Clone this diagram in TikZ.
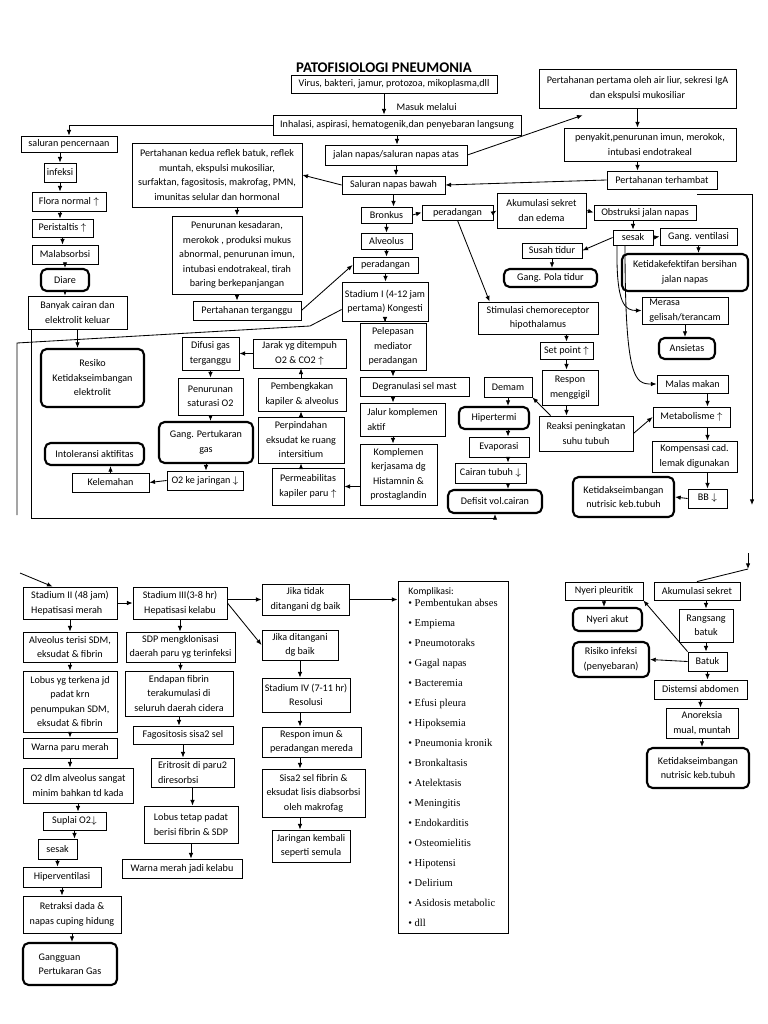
\documentclass[tikz,border=0pt]{standalone}
\usepackage{fontspec}
\setmainfont{Carlito}
\newfontfamily\listfont{Liberation Serif}
\usetikzlibrary{arrows.meta}
\tikzset{
  flowblock/.style={
    rectangle, draw=black, line width=0.6pt, fill=white,
    font=\fontsize{7.2}{10.3}\selectfont, align=center, inner sep=1pt
  },
  diagblock/.style={
    flowblock, rounded corners=4pt, line width=1.5pt
  },
  listblock/.style={
    rectangle, draw=black, line width=0.6pt,
    font=\listfont\fontsize{7.5}{14.25}\selectfont, align=left, inner sep=2pt
  },
  sz/.style 2 args={minimum width=#1*0.025cm, minimum height=#2*0.025cm},
  flowarrow/.style={
    -{Latex[length=4pt,width=3.2pt]}, line width=0.6pt, color=black
  },
  flowline/.style={line width=0.6pt, color=black},
  titlenode/.style={font=\fontsize{10.5}{12}\selectfont\bfseries},
  labelnode/.style={font=\fontsize{7.2}{9}\selectfont, inner sep=1pt},
}
\begin{document}
\begin{tikzpicture}[x=0.025cm, y=-0.025cm]
  \useasboundingbox (0,0) rectangle (768,1024);

  % Title and entry
  \node[titlenode] (title) at (384,68) {PATOFISIOLOGI PNEUMONIA};
  \node[flowblock, sz={206}{18}] (virus) at (394,84) {Virus, bakteri, jamur, protozoa, mikoplasma,dll};
  \node[labelnode, anchor=west] (masuk) at (395,107) {Masuk melalui};
  \node[flowblock, sz={248}{20}] (inhal) at (397,125) {Inhalasi, aspirasi, hematogenik,dan penyebaran langsung};

  % Defence path
  \node[flowblock, sz={142}{20}] (jnatas) at (396,155) {jalan napas/saluran napas atas};
  \node[flowblock, sz={103}{18}] (snbawah) at (393.5,185) {Saluran napas bawah};
  \node[flowblock, sz={197}{39}] (pert1) at (637.5,88.5) {Pertahanan pertama oleh air liur, sekresi IgA\\dan ekspulsi mukosiliar};
  \node[flowblock, sz={172}{33}] (penyakit) at (650,144.5) {penyakit,penurunan imun, merokok,\\intubasi endotrakeal};
  \node[flowblock, sz={110}{18}] (terhambat) at (662,180) {Pertahanan terhambat};
  \node[flowblock, sz={170}{64}] (pert2) at (217,175) {Pertahanan kedua reflek batuk, reflek\\muntah, ekspulsi mukosiliar,\\surfaktan, fagositosis, makrofag, PMN,\\imunitas selular dan hormonal};
  \node[flowblock, sz={130}{78}] (penkes) at (237,255) {Penurunan kesadaran,\\merokok , produksi mukus\\abnormal, penurunan imun,\\intubasi endotrakeal, tirah\\baring berkepanjangan};
  \node[flowblock, sz={108}{19}] (terganggu) at (247,310.5) {Pertahanan terganggu};

  % Digestive path
  \node[flowblock, sz={96}{16}] (salpen) at (69,144) {saluran pencernaan};
  \node[flowblock, sz={32}{19}] (infeksi) at (60,172.5) {infeksi};
  \node[flowblock, sz={74}{19}] (flora) at (69,201.5) {Flora normal $\uparrow$};
  \node[flowblock, sz={61}{18}] (peris) at (62.5,228) {Peristaltis $\uparrow$};
  \node[flowblock, sz={66}{19}] (malab) at (65,254.5) {Malabsorbsi};
  \node[diagblock, sz={48}{22}] (diare) at (65,280) {Diare};
  \node[flowblock, sz={99}{33}] (banyak) at (77.5,312.5) {Banyak cairan dan\\elektrolit keluar};
  \node[diagblock, sz={103}{58}] (resiko) at (92.5,378) {Resiko\\Ketidakseimbangan\\elektrolit};

  % Lower airway
  \node[flowblock, sz={51}{16}] (bronkus) at (386.5,215) {Bronkus};
  \node[flowblock, sz={71}{15}] (perad1) at (457.5,212.5) {peradangan};
  \node[flowblock, sz={89}{35}] (akum) at (541.5,210.5) {Akumulasi sekret\\dan edema};
  \node[flowblock, sz={51}{16}] (alveolus) at (386.5,241) {Alveolus};
  \node[flowblock, sz={65}{16}] (perad2) at (385.5,265) {peradangan};
  \node[flowblock, sz={86}{39}] (stad1) at (385,301.5) {Stadium I (4-12 jam\\pertama) Kongesti};

  % Obstruction branch
  \node[flowblock, sz={102}{15}] (obstr) at (645,212.5) {Obstruksi jalan napas};
  \node[flowblock, sz={40}{15}] (sesak) at (633,237.5) {sesak};
  \node[flowblock, sz={77}{17}] (gvent) at (698.5,236.5) {Gang. ventilasi};
  \node[diagblock, sz={126}{37}] (ketef) at (685,272.5) {Ketidakefektifan bersihan\\jalan napas};
  \node[flowblock, sz={60}{15}] (susah) at (552,250.5) {Susah tidur};
  \node[diagblock, sz={93}{18}] (gpola) at (550.5,278) {Gang. Pola tidur};
  \node[flowblock, sz={86}{27}, align=left] (merasa) at (685,310.5) {Merasa\\gelisah/terancam};
  \node[diagblock, sz={56}{21}] (ansietas) at (687,348.5) {Ansietas};
  \node[flowblock, sz={71}{18}] (malas) at (692.5,384) {Malas makan};
  \node[flowblock, sz={77}{20}] (metab) at (691.5,417) {Metabolisme $\uparrow$};
  \node[flowblock, sz={85}{31}] (kompen) at (694.5,456.5) {Kompensasi cad.\\lemak digunakan};
  \node[flowblock, sz={39}{19}] (bb) at (707.5,498.5) {BB $\downarrow$};
  \node[diagblock, sz={101}{40}] (ketnut) at (623.5,497) {Ketidakseimbangan\\nutrisic keb.tubuh};

  % Fever branch
  \node[flowblock, sz={120}{32}] (stimul) at (538,318) {Stimulasi chemoreceptor\\hipothalamus};
  \node[flowblock, sz={53}{17}] (setpoint) at (566.5,350.5) {Set point $\uparrow$};
  \node[flowblock, sz={56}{35}] (respon) at (570,387.5) {Respon\\menggigil};
  \node[flowblock, sz={94}{35}] (reaksi) at (586,433.5) {Reaksi peningkatan\\suhu tubuh};
  \node[flowblock, sz={48}{20}] (demam) at (508,387) {Demam};
  \node[diagblock, sz={70}{22}] (hiper) at (494,418) {Hipertermi};
  \node[flowblock, sz={60}{20}] (evap) at (499,447) {Evaporasi};
  \node[flowblock, sz={71}{20}] (cairan) at (490.5,473) {Cairan tubuh $\downarrow$};
  \node[diagblock, sz={94}{23}] (defisit) at (495,501.5) {Defisit vol.cairan};

  % Inflammatory mediators
  \node[flowblock, sz={66}{47}] (pelepasan) at (393,346.5) {Pelepasan\\mediator\\peradangan};
  \node[flowblock, sz={109}{19}] (degran) at (414.5,386.5) {Degranulasi sel mast};
  \node[flowblock, sz={85}{33}, align=left] (jalur) at (402.5,419.5) {Jalur komplemen\\aktif};
  \node[flowblock, sz={77}{61}] (komplemen) at (398.5,474.5) {Komplemen\\kerjasama dg\\Histamnin \&\\prostaglandin};
  \node[flowblock, sz={72}{37}] (permeab) at (308,486.5) {Permeabilitas\\kapiler paru $\uparrow$};
  \node[flowblock, sz={86}{46}] (perpind) at (301,440) {Perpindahan\\eksudat ke ruang\\intersitium};
  \node[flowblock, sz={88}{33}] (pembeng) at (302,394.5) {Pembengkakan\\kapiler \& alveolus};
  \node[flowblock, sz={93}{29}] (jarak) at (299.5,353.5) {Jarak yg ditempuh\\O2 \& CO2 $\uparrow$};
  \node[flowblock, sz={57}{33}] (difusi) at (210.5,353.5) {Difusi gas\\terganggu};
  \node[flowblock, sz={65}{37}] (penurunan) at (210.5,396.5) {Penurunan\\saturasi O2};
  \node[diagblock, sz={94}{41}] (gpert) at (206,442.5) {Gang. Pertukaran\\gas};
  \node[flowblock, sz={76}{19}] (o2jar) at (205,480.5) {O2 ke jaringan $\downarrow$};
  \node[flowblock, sz={77}{19}] (kelemahan) at (110.5,482.5) {Kelemahan};
  \node[diagblock, sz={99}{22}] (intoler) at (94.5,454) {Intoleransi aktifitas};

  % Stage II and III
  \node[flowblock, sz={94}{32}, align=left] (stad2) at (70,603) {Stadium II (48 jam)\\Hepatisasi merah};
  \node[flowblock, sz={94}{32}] (stad3) at (180,603) {Stadium III(3-8 hr)\\Hepatisasi kelabu};
  \node[flowblock, sz={94}{30}] (alvterisi) at (70,647) {Alveolus terisi SDM,\\eksudat \& fibrin};
  \node[flowblock, sz={94}{61}] (lobus) at (70,701.5) {Lobus yg terkena jd\\padat krn\\penumpukan SDM,\\eksudat \& fibrin};
  \node[flowblock, sz={94}{20}] (warna) at (70,748) {Warna paru merah};
  \node[flowblock, sz={110}{35}] (o2dlm) at (78,785.5) {O2 dlm alveolus sangat\\minim bahkan td kada};
  \node[flowblock, sz={63}{18}] (suplai) at (74.5,821) {Suplai O2$\downarrow$};
  \node[flowblock, sz={39}{20}] (sesak2) at (57.5,849) {sesak};
  \node[flowblock, sz={78}{20}] (hiperv) at (62,877) {Hiperventilasi};
  \node[flowblock, sz={98}{37}] (retraksi) at (72,914.5) {Retraksi dada \&\\napas cuping hidung};
  \node[diagblock, sz={94}{42}, align=left] (ggas) at (70,964) {Gangguan\\Pertukaran Gas};
  \node[flowblock, sz={109}{30}] (sdp) at (180.5,647) {SDP mengklonisasi\\daerah paru yg terinfeksi};
  \node[flowblock, sz={108}{45}] (endapan) at (179,693.5) {Endapan fibrin\\terakumulasi di\\seluruh daerah cidera};
  \node[flowblock, sz={100}{18}] (fagosit) at (183,735) {Fagositosis sisa2 sel};
  \node[flowblock, sz={83}{29}, align=left] (eritrosit) at (192.5,772.5) {Eritrosit di paru2\\diresorbsi};
  \node[flowblock, sz={94}{37}] (lobus2) at (191,824.5) {Lobus tetap padat\\berisi fibrin \& SDP};
  \node[flowblock, sz={120}{19}] (wmerah) at (182,868.5) {Warna merah jadi kelabu};

  % Outcome
  \node[flowblock, sz={87}{31}] (jikatidak) at (305.5,599.5) {Jika tidak\\ditangani dg baik};
  \node[flowblock, sz={76}{30}] (jikabaik) at (300,645) {Jika ditangani\\dg baik};
  \node[flowblock, sz={88}{34}] (stad4) at (306,695) {Stadium IV (7-11 hr)\\Resolusi};
  \node[flowblock, sz={99}{30}] (respimun) at (311.5,742) {Respon imun \&\\peradangan mereda};
  \node[flowblock, sz={103}{48}] (sisa) at (313.5,793) {Sisa2 sel fibrin \&\\eksudat lisis diabsorbsi\\oleh makrofag};
  \node[flowblock, sz={78}{32}] (jaringan) at (311,846) {Jaringan kembali\\seperti semula};
  \node[listblock, sz={110}{352}] (kompl) at (453,757) {%
    {\rmfamily\fontsize{7}{8}\selectfont Komplikasi:}\\[-5.7pt]
    \textbullet\ Pembentukan abses\\
    \textbullet\ Empiema\\
    \textbullet\ Pneumotoraks\\
    \textbullet\ Gagal napas\\
    \textbullet\ Bacteremia\\
    \textbullet\ Efusi pleura\\
    \textbullet\ Hipoksemia\\
    \textbullet\ Pneumonia kronik\\
    \textbullet\ Bronkaltasis\\
    \textbullet\ Atelektasis\\
    \textbullet\ Meningitis\\
    \textbullet\ Endokarditis\\
    \textbullet\ Osteomielitis\\
    \textbullet\ Hipotensi\\
    \textbullet\ Delirium\\
    \textbullet\ Asidosis metabolic\\
    \textbullet\ dll};

  % Cough branch
  \node[flowblock, sz={78}{18}] (nyeripl) at (604,591) {Nyeri pleuritik};
  \node[flowblock, sz={86}{18}] (akum2) at (697,591) {Akumulasi sekret};
  \node[diagblock, sz={69}{23}] (nyeriakut) at (607.5,619.5) {Nyeri akut};
  \node[flowblock, sz={54}{33}] (rangsang) at (706,625.5) {Rangsang\\batuk};
  \node[flowblock, sz={39}{19}] (batuk) at (707.5,661.5) {Batuk};
  \node[diagblock, sz={76}{35}] (risiko) at (611,659.5) {Risiko infeksi\\(penyebaran)};
  \node[flowblock, sz={93}{19}] (distemsi) at (700.5,689.5) {Distemsi abdomen};
  \node[flowblock, sz={72}{30}] (anoreksia) at (702,723) {Anoreksia\\mual, muntah};
  \node[diagblock, sz={102}{40}] (ketnut2) at (698,768) {Ketidakseimbangan\\nutrisic keb.tubuh};

  % Free ends of the long lines
  \coordinate (rtop) at (697,194);
  \coordinate (rbot) at (752,505);
  \coordinate (lk1) at (310,326);
  \coordinate (lk2) at (17,343);
  \coordinate (lk3) at (17,515);
  \coordinate (s2in) at (20,573);
  \coordinate (r2a) at (748,553);
  \coordinate (r2b) at (748,569);

  % Connectors, upper half
  \draw[flowarrow] ([xshift=-0.25cm]virus.south) -- ([xshift=-0.25cm]virus.south |- inhal.north);
  \draw[flowarrow] (inhal.west) -| (salpen.north);
  \draw[flowarrow] (inhal.south) -- (inhal.south |- jnatas.north);
  \draw[flowarrow] (jnatas.east) -- ([xshift=1.1cm,yshift=-0.17cm]pert1.south west);
  \draw[flowarrow] (pert1.south) -- (pert1.south |- penyakit.north);
  \draw[flowarrow] (pert1.south |- penyakit.south) -- (pert1.south |- terhambat.north);
  \draw[flowarrow] (terhambat.west) -- (snbawah.east);
  \draw[flowarrow] (rtop) -| (rbot);
  \draw[flowarrow] (jnatas.south) -- (jnatas.south |- snbawah.north);
  \draw[flowarrow] (snbawah.west) -- (pert2.east);
  \draw[flowarrow] (penkes.north |- pert2.south) -- (penkes.north);
  \draw[flowarrow] (penkes.south) -- (penkes.south |- terganggu.north);
  \draw[flowarrow] (terganggu.east) -- (perad2.west);
  \draw[flowarrow] (infeksi.north |- salpen.south) -- (infeksi.north);
  \draw[flowarrow] (infeksi.south) -- (infeksi.south |- flora.north);
  \draw[flowarrow] (infeksi.south |- flora.south) -- (infeksi.south |- peris.north);
  \draw[flowarrow] (peris.south) -- (peris.south |- malab.north);
  \draw[flowarrow] (malab.south) -- (malab.south |- diare.north);
  \draw[flowarrow] (diare.south) -- (diare.south |- banyak.north);
  \draw[flowarrow] (banyak.south) -- (banyak.south |- resiko.north);
  \draw[flowarrow] ([xshift=-1.14cm]banyak.south) |- ([yshift=-0.1cm]defisit.south) -- (defisit.south);
  \draw[flowarrow] (snbawah.south) -- (snbawah.south |- bronkus.north);
  \draw[flowarrow] (bronkus.east) -- (perad1.west);
  \draw[flowarrow] (perad1.east) -- (akum.west);
  \draw[flowarrow] (perad1.south) -- ([xshift=0.3cm]stimul.north west);
  \draw[flowarrow] (bronkus.south) -- (bronkus.south |- alveolus.north);
  \draw[flowarrow] (alveolus.south) -- (alveolus.south |- perad2.north);
  \draw[flowarrow] (perad2.south) -- (perad2.south |- stad1.north);
  \draw[flowarrow] (stad1.south) -- (stad1.south |- pelepasan.north);
  \draw[flowline] ([yshift=-0.2cm]stad1.west) -- (lk1) -- (lk2) -- (lk3);
  \draw[flowarrow] (akum.east) -- (obstr.west);
  \draw[flowarrow] (sesak.north |- obstr.south) -- (sesak.north);
  \draw[flowarrow] (sesak.east) -- (gvent.west);
  \draw[flowarrow] (gvent.south) -- (gvent.south |- ketef.north);
  \draw[flowarrow] (sesak.west) -- (susah.east);
  \draw[flowarrow] (susah.south) -- (susah.south |- gpola.north);
  \draw[flowarrow] ([xshift=-0.4cm]sesak.south) .. controls (616,305) and (625,310.5) .. (merasa.west);
  \draw[flowarrow] ([xshift=-0.2cm]sesak.south) .. controls (625,380) and (635,384) .. (malas.west);
  \draw[flowarrow] (merasa.south) -- (merasa.south |- ansietas.north);
  \draw[flowarrow] (bb.north |- malas.south) -- (bb.north |- metab.north);
  \draw[flowarrow] (bb.north |- metab.south) -- (bb.north |- kompen.north);
  \draw[flowarrow] (bb.north |- kompen.south) -- (bb.north);
  \draw[flowarrow] (bb.west) -- (ketnut.east);
  \draw[flowarrow] (setpoint.north |- stimul.south) -- (setpoint.north);
  \draw[flowarrow] (setpoint.south) -- (setpoint.south |- respon.north);
  \draw[flowarrow] (setpoint.south |- respon.south) -- (setpoint.south |- reaksi.north);
  \draw[flowarrow] (reaksi.east) -- (metab.west);
  \draw[flowarrow] ([xshift=0.3cm]reaksi.north west) -- (demam.south east);
  \draw[flowarrow] (demam.south) -- (demam.south |- hiper.north);
  \draw[flowarrow] (demam.south |- hiper.south) -- (demam.south |- evap.north);
  \draw[flowarrow] (demam.south |- evap.south) -- (demam.south |- cairan.north);
  \draw[flowarrow] (demam.south |- cairan.south) -- (demam.south |- defisit.north);
  \draw[flowarrow] (pelepasan.south) -- (pelepasan.south |- degran.north);
  \draw[flowarrow] (pelepasan.south |- degran.south) -- (pelepasan.south |- jalur.north);
  \draw[flowarrow] (pelepasan.south |- jalur.south) -- (pelepasan.south |- komplemen.north);
  \draw[flowarrow] (komplemen.west |- permeab.east) -- (permeab.east);
  \draw[flowarrow] (perpind.south |- permeab.north) -- (perpind.south);
  \draw[flowarrow] (perpind.north) -- (perpind.north |- pembeng.south);
  \draw[flowarrow] (perpind.north |- pembeng.north) -- (perpind.north |- jarak.south);
  \draw[flowarrow] (jarak.west) -- (difusi.east);
  \draw[flowarrow] (difusi.south) -- (difusi.south |- penurunan.north);
  \draw[flowarrow] (difusi.south |- penurunan.south) -- (difusi.south |- gpert.north);
  \draw[flowarrow] (gpert.south) -- (gpert.south |- o2jar.north);
  \draw[flowarrow] (o2jar.west) -- (kelemahan.east);
  \draw[flowarrow] (kelemahan.north) -- (kelemahan.north |- intoler.south);

  % Connectors, lower half
  \draw[flowarrow] (s2in) -- ([xshift=0.75cm]stad2.north west);
  \draw[flowarrow] (stad2.east) -- (stad3.west);
  \draw[flowarrow] (stad3.east |- jikatidak.west) -- (jikatidak.west);
  \draw[flowarrow] (stad3.east) -- (jikabaik.west);
  \draw[flowarrow] (jikatidak.east) -- (jikatidak.east -| kompl.west);
  \draw[flowarrow] (jikabaik.south) -- (jikabaik.south |- stad4.north);
  \draw[flowarrow] (jikabaik.south |- stad4.south) -- (jikabaik.south |- respimun.north);
  \draw[flowarrow] (jikabaik.south |- respimun.south) -- (jikabaik.south |- sisa.north);
  \draw[flowarrow] (jikabaik.south |- sisa.south) -- (jikabaik.south |- jaringan.north);
  \draw[flowarrow] (stad2.south) -- (stad2.south |- alvterisi.north);
  \draw[flowarrow] (alvterisi.south) -- (alvterisi.south |- lobus.north);
  \draw[flowarrow] (lobus.south) -- (lobus.south |- warna.north);
  \draw[flowarrow] (warna.south) -- (warna.south |- o2dlm.north);
  \draw[flowarrow] (o2dlm.south) -- (o2dlm.south |- suplai.north);
  \draw[flowarrow] (suplai.south) -- (suplai.south |- sesak2.north);
  \draw[flowarrow] (sesak2.south) -- (sesak2.south |- hiperv.north);
  \draw[flowarrow] (hiperv.south) -- (hiperv.south |- retraksi.north);
  \draw[flowarrow] (retraksi.south) -- (retraksi.south |- ggas.north);
  \draw[flowarrow] (stad3.south) -- (stad3.south |- sdp.north);
  \draw[flowarrow] (sdp.south) -- (sdp.south |- endapan.north);
  \draw[flowarrow] (endapan.south) -- (endapan.south |- fagosit.north);
  \draw[flowarrow] (fagosit.south) -- (fagosit.south |- eritrosit.north);
  \draw[flowarrow] (eritrosit.south) -- (eritrosit.south |- lobus2.north);
  \draw[flowarrow] (lobus2.south) -- (lobus2.south |- wmerah.north);
  \draw[flowarrow] (r2a) -- (r2b);
  \draw[flowline] (r2b) -- (akum2.north);
  \draw[flowarrow] (rangsang.north |- akum2.south) -- (rangsang.north);
  \draw[flowarrow] (rangsang.south) -- (rangsang.south |- batuk.north);
  \draw[flowarrow] (batuk.south) -- (batuk.south |- distemsi.north);
  \draw[flowarrow] (distemsi.south) -- (distemsi.south |- anoreksia.north);
  \draw[flowarrow] (anoreksia.south) -- (anoreksia.south |- ketnut2.north);
  \draw[flowarrow] (nyeripl.south) -- (nyeripl.south |- nyeriakut.north);
  \draw[flowarrow] (batuk.north west) -- (nyeripl.south east);
  \draw[flowarrow] (batuk.west) -- (risiko.east);
\end{tikzpicture}
\end{document}
